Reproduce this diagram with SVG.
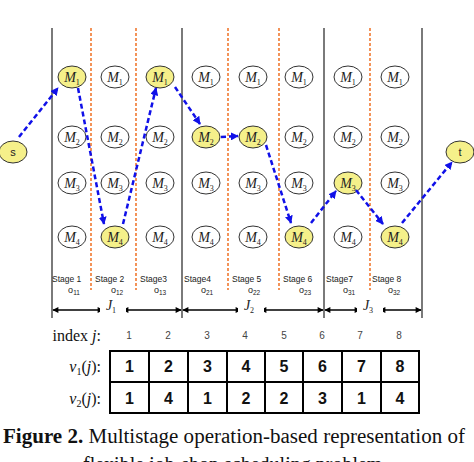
<svg xmlns="http://www.w3.org/2000/svg" width="474" height="462" viewBox="0 0 474 462">
<defs>
<marker id="ah" viewBox="0 0 10 10" refX="9" refY="5" markerWidth="3.2" markerHeight="3.2" orient="auto" markerUnits="strokeWidth"><path d="M0,0 L10,5 L0,10 z" fill="#1010e8"/></marker>
<marker id="bh" viewBox="0 0 10 10" refX="9" refY="5" markerWidth="7" markerHeight="6" orient="auto-start-reverse" markerUnits="userSpaceOnUse"><path d="M0,0 L10,5 L0,10 z" fill="#000"/></marker>
<style>
.stage{stroke:#7a7a7a;stroke-width:2}
.div{stroke:#f07830;stroke-width:1.6;stroke-dasharray:3,2}
.n{fill:#fff;stroke:#333;stroke-width:1}
.y{fill:#f5f08a;stroke:#333;stroke-width:1}
.m{font-family:"Liberation Serif",serif;font-style:italic;font-size:14px;fill:#222;text-anchor:middle}
.m tspan{font-size:8px;font-style:normal}
.st{font-family:"Liberation Sans",sans-serif;font-size:8.5px;fill:#222}
.o{font-family:"Liberation Sans",sans-serif;font-size:9px;fill:#222;text-anchor:middle}
.o tspan{font-size:6.5px}
.e{stroke:#1010e8;stroke-width:2.5;stroke-dasharray:5,3;fill:none;marker-end:url(#ah)}
.j{stroke:#000;stroke-width:1.6;marker-start:url(#bh);marker-end:url(#bh)}
.jl{font-family:"Liberation Serif",serif;font-style:italic;font-size:14px;fill:#222;text-anchor:middle}
.jl tspan{font-size:8px;font-style:normal}
.idx{font-family:"Liberation Sans",sans-serif;font-size:10px;fill:#444;text-anchor:middle}
.cell{font-family:"Liberation Sans",sans-serif;font-weight:bold;font-size:16px;fill:#111;text-anchor:middle}
.lab{font-family:"Liberation Serif",serif;font-size:16px;fill:#111;text-anchor:end}
.cap{font-family:"Liberation Serif",serif;font-size:20px;fill:#111}
</style>
</defs>
<rect width="474" height="462" fill="#fff"/>
<g id="grid">
<line class="stage" x1="52" y1="28" x2="52" y2="318"/>
<line class="stage" x1="182" y1="28" x2="182" y2="318"/>
<line class="stage" x1="324" y1="28" x2="324" y2="318"/>
<line class="stage" x1="422" y1="28" x2="422" y2="318"/>
<line class="div" x1="91" y1="28" x2="91" y2="290"/>
<line class="div" x1="136" y1="28" x2="136" y2="290"/>
<line class="div" x1="228" y1="28" x2="228" y2="290"/>
<line class="div" x1="279" y1="28" x2="279" y2="290"/>
<line class="div" x1="370" y1="28" x2="370" y2="290"/>
</g>
<g id="s"><ellipse class="y" cx="13" cy="152" rx="14" ry="11"/><text x="13" y="156" class="st" style="font-size:11px" text-anchor="middle">s</text></g>
<g id="t"><ellipse class="y" cx="460" cy="152" rx="14" ry="11"/><text x="460" y="156" class="st" style="font-size:11px" text-anchor="middle">t</text></g>
<g id="stage1">
<ellipse class="y" cx="72" cy="77" rx="14" ry="11"/><text class="m" x="72" y="82">M<tspan dy="3">1</tspan></text>
<ellipse class="n" cx="72" cy="137" rx="14" ry="11"/><text class="m" x="72" y="142">M<tspan dy="3">2</tspan></text>
<ellipse class="n" cx="72" cy="183" rx="14" ry="11"/><text class="m" x="72" y="188">M<tspan dy="3">3</tspan></text>
<ellipse class="n" cx="72" cy="237" rx="14" ry="11"/><text class="m" x="72" y="242">M<tspan dy="3">4</tspan></text>
</g>
<g id="stage2">
<ellipse class="n" cx="115" cy="77" rx="14" ry="11"/><text class="m" x="115" y="82">M<tspan dy="3">1</tspan></text>
<ellipse class="n" cx="115" cy="137" rx="14" ry="11"/><text class="m" x="115" y="142">M<tspan dy="3">2</tspan></text>
<ellipse class="n" cx="115" cy="183" rx="14" ry="11"/><text class="m" x="115" y="188">M<tspan dy="3">3</tspan></text>
<ellipse class="y" cx="115" cy="237" rx="14" ry="11"/><text class="m" x="115" y="242">M<tspan dy="3">4</tspan></text>
</g>
<g id="stage3">
<ellipse class="y" cx="160" cy="77" rx="14" ry="11"/><text class="m" x="160" y="82">M<tspan dy="3">1</tspan></text>
<ellipse class="n" cx="160" cy="137" rx="14" ry="11"/><text class="m" x="160" y="142">M<tspan dy="3">2</tspan></text>
<ellipse class="n" cx="160" cy="183" rx="14" ry="11"/><text class="m" x="160" y="188">M<tspan dy="3">3</tspan></text>
<ellipse class="n" cx="160" cy="237" rx="14" ry="11"/><text class="m" x="160" y="242">M<tspan dy="3">4</tspan></text>
</g>
<g id="stage4">
<ellipse class="n" cx="206" cy="77" rx="14" ry="11"/><text class="m" x="206" y="82">M<tspan dy="3">1</tspan></text>
<ellipse class="y" cx="206" cy="137" rx="14" ry="11"/><text class="m" x="206" y="142">M<tspan dy="3">2</tspan></text>
<ellipse class="n" cx="206" cy="183" rx="14" ry="11"/><text class="m" x="206" y="188">M<tspan dy="3">3</tspan></text>
<ellipse class="n" cx="206" cy="237" rx="14" ry="11"/><text class="m" x="206" y="242">M<tspan dy="3">4</tspan></text>
</g>
<g id="stage5">
<ellipse class="n" cx="253" cy="77" rx="14" ry="11"/><text class="m" x="253" y="82">M<tspan dy="3">1</tspan></text>
<ellipse class="y" cx="253" cy="137" rx="14" ry="11"/><text class="m" x="253" y="142">M<tspan dy="3">2</tspan></text>
<ellipse class="n" cx="253" cy="183" rx="14" ry="11"/><text class="m" x="253" y="188">M<tspan dy="3">3</tspan></text>
<ellipse class="n" cx="253" cy="237" rx="14" ry="11"/><text class="m" x="253" y="242">M<tspan dy="3">4</tspan></text>
</g>
<g id="stage6">
<ellipse class="n" cx="299" cy="77" rx="14" ry="11"/><text class="m" x="299" y="82">M<tspan dy="3">1</tspan></text>
<ellipse class="n" cx="299" cy="137" rx="14" ry="11"/><text class="m" x="299" y="142">M<tspan dy="3">2</tspan></text>
<ellipse class="n" cx="299" cy="183" rx="14" ry="11"/><text class="m" x="299" y="188">M<tspan dy="3">3</tspan></text>
<ellipse class="y" cx="299" cy="237" rx="14" ry="11"/><text class="m" x="299" y="242">M<tspan dy="3">4</tspan></text>
</g>
<g id="stage7">
<ellipse class="n" cx="348" cy="77" rx="14" ry="11"/><text class="m" x="348" y="82">M<tspan dy="3">1</tspan></text>
<ellipse class="n" cx="348" cy="137" rx="14" ry="11"/><text class="m" x="348" y="142">M<tspan dy="3">2</tspan></text>
<ellipse class="y" cx="348" cy="183" rx="14" ry="11"/><text class="m" x="348" y="188">M<tspan dy="3">3</tspan></text>
<ellipse class="n" cx="348" cy="237" rx="14" ry="11"/><text class="m" x="348" y="242">M<tspan dy="3">4</tspan></text>
</g>
<g id="stage8">
<ellipse class="n" cx="395" cy="77" rx="14" ry="11"/><text class="m" x="395" y="82">M<tspan dy="3">1</tspan></text>
<ellipse class="n" cx="395" cy="137" rx="14" ry="11"/><text class="m" x="395" y="142">M<tspan dy="3">2</tspan></text>
<ellipse class="n" cx="395" cy="183" rx="14" ry="11"/><text class="m" x="395" y="188">M<tspan dy="3">3</tspan></text>
<ellipse class="y" cx="395" cy="237" rx="14" ry="11"/><text class="m" x="395" y="242">M<tspan dy="3">4</tspan></text>
</g>
<g id="connectors">
<line class="e" x1="19" y1="137" x2="58" y2="88"/>
<line class="e" x1="78" y1="88" x2="104" y2="224"/>
<line class="e" x1="123" y1="224" x2="156" y2="88"/>
<line class="e" x1="175" y1="87" x2="200" y2="124"/>
<line class="e" x1="221" y1="137" x2="238" y2="136"/>
<line class="e" x1="266" y1="145" x2="291" y2="223"/>
<line class="e" x1="311" y1="223" x2="336" y2="191"/>
<line class="e" x1="356" y1="190" x2="383" y2="224"/>
<line class="e" x1="402" y1="223" x2="452" y2="162"/>
</g>
<g id="stage-labels">
<text class="st" x="52" y="282">Stage 1</text>
<text class="st" x="95" y="282">Stage 2</text>
<text class="st" x="140" y="282">Stage3</text>
<text class="st" x="184" y="282">Stage4</text>
<text class="st" x="232" y="282">Stage 5</text>
<text class="st" x="283" y="282">Stage 6</text>
<text class="st" x="326" y="282">Stage7</text>
<text class="st" x="372" y="282">Stage 8</text>
<text class="o" x="74" y="293">o<tspan dy="2">11</tspan></text>
<text class="o" x="117" y="293">o<tspan dy="2">12</tspan></text>
<text class="o" x="160" y="293">o<tspan dy="2">13</tspan></text>
<text class="o" x="207" y="293">o<tspan dy="2">21</tspan></text>
<text class="o" x="254" y="293">o<tspan dy="2">22</tspan></text>
<text class="o" x="305" y="293">o<tspan dy="2">23</tspan></text>
<text class="o" x="349" y="293">o<tspan dy="2">31</tspan></text>
<text class="o" x="394" y="293">o<tspan dy="2">32</tspan></text>
</g>
<g id="jobs">
<line class="j" x1="53" y1="310" x2="103" y2="310"/>
<line class="j" x1="123" y1="310" x2="181" y2="310"/>
<line class="j" x1="183" y1="310" x2="241" y2="310"/>
<line class="j" x1="261" y1="310" x2="323" y2="310"/>
<line class="j" x1="325" y1="310" x2="360" y2="310"/>
<line class="j" x1="380" y1="310" x2="421" y2="310"/>
<rect x="100" y="300" width="26" height="16" fill="#fff"/>
<rect x="238" y="300" width="26" height="16" fill="#fff"/>
<rect x="357" y="300" width="26" height="16" fill="#fff"/>
<text class="jl" x="111" y="310">J<tspan dy="3">1</tspan></text>
<text class="jl" x="249" y="310">J<tspan dy="3">2</tspan></text>
<text class="jl" x="368" y="310">J<tspan dy="3">3</tspan></text>
</g>
<g id="table">
<text class="lab" x="101" y="341">index <tspan font-style="italic">j</tspan>:</text>
<text class="idx" x="129" y="339">1</text>
<text class="idx" x="168" y="339">2</text>
<text class="idx" x="207" y="339">3</text>
<text class="idx" x="245" y="339">4</text>
<text class="idx" x="284" y="339">5</text>
<text class="idx" x="322" y="339">6</text>
<text class="idx" x="360" y="339">7</text>
<text class="idx" x="399" y="339">8</text>
<text class="lab" x="101" y="372"><tspan font-style="italic">v</tspan><tspan font-size="10" dy="3">1</tspan><tspan dy="-3">(</tspan><tspan font-style="italic">j</tspan>):</text>
<text class="lab" x="101" y="404"><tspan font-style="italic">v</tspan><tspan font-size="10" dy="3">2</tspan><tspan dy="-3">(</tspan><tspan font-style="italic">j</tspan>):</text>
<rect x="110" y="351" width="309" height="62" fill="#fff" stroke="#000" stroke-width="2"/>
<line x1="110" y1="382" x2="419" y2="382" stroke="#000" stroke-width="2"/>
<path d="M149,351V413M188,351V413M227,351V413M265,351V413M303,351V413M342,351V413M381,351V413" stroke="#000" stroke-width="2"/>
<text class="cell" x="129.5" y="372">1</text>
<text class="cell" x="168.5" y="372">2</text>
<text class="cell" x="207.5" y="372">3</text>
<text class="cell" x="246" y="372">4</text>
<text class="cell" x="284" y="372">5</text>
<text class="cell" x="322.5" y="372">6</text>
<text class="cell" x="361.5" y="372">7</text>
<text class="cell" x="400" y="372">8</text>
<text class="cell" x="129.5" y="404">1</text>
<text class="cell" x="168.5" y="404">4</text>
<text class="cell" x="207.5" y="404">1</text>
<text class="cell" x="246" y="404">2</text>
<text class="cell" x="284" y="404">2</text>
<text class="cell" x="322.5" y="404">3</text>
<text class="cell" x="361.5" y="404">1</text>
<text class="cell" x="400" y="404">4</text>
</g>
<g id="caption">
<text class="cap" x="3" y="443" textLength="462" lengthAdjust="spacingAndGlyphs"><tspan font-weight="bold">Figure 2.</tspan> Multistage operation-based representation of</text>
<text class="cap" x="83" y="471">flexible job-shop scheduling problem</text>
</g>
</svg>
